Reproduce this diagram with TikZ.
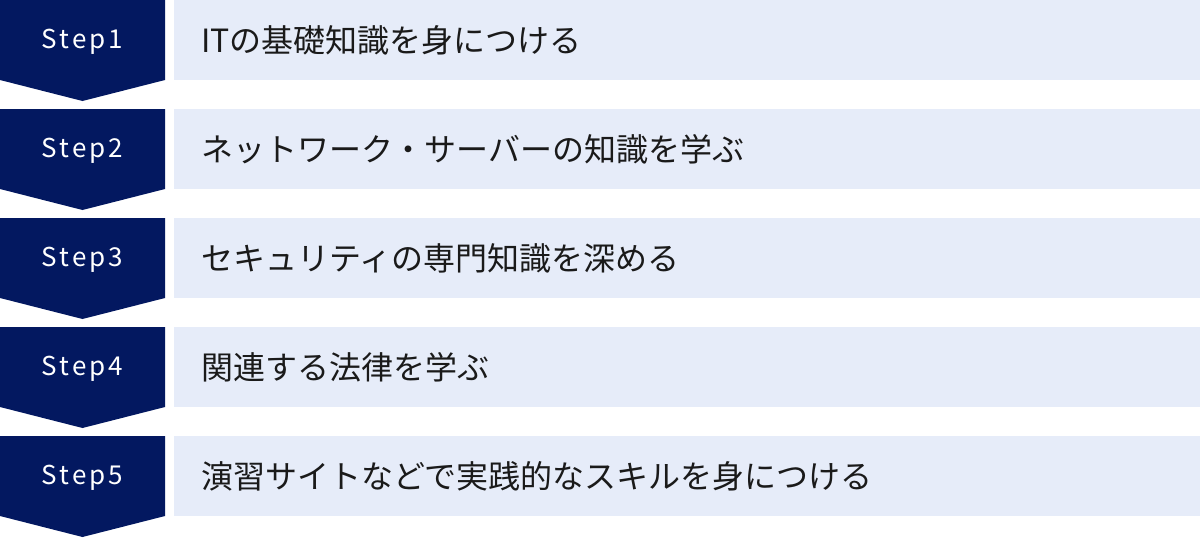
\documentclass[tikz,border=0pt]{standalone}
\usepackage{fontspec}
\setmainfont{Noto Sans CJK JP}
\definecolor{stepnavy}{RGB}{3,24,96}
\definecolor{rowblue}{RGB}{230,236,249}
\definecolor{rowink}{RGB}{26,26,26}
\tikzset{
  steplabel/.style={text=white, font=\fontsize{26}{30}\selectfont\addfontfeature{LetterSpace=12}, inner sep=0pt},
  rowtext/.style={text=rowink, font=\fontsize{32}{36}\selectfont, inner sep=0pt, anchor=west}
}
\begin{document}
\begin{tikzpicture}[x=1pt,y=-1pt, line join=round]
		\def\rowh{80} \def\gap{109} \def\tip{21}
		\def\boxw{165} \def\rowx{174}
		\useasboundingbox (0,0) rectangle (1200,538);
		\foreach \i/\txt in {1/ITの基礎知識を身につける,
			2/ネットワーク・サーバーの知識を学ぶ,
			3/セキュリティの専門知識を深める,
			4/関連する法律を学ぶ,
			5/演習サイトなどで実践的なスキルを身につける}{
			\pgfmathsetmacro\ytop{(\i-1)*\gap}
			\fill[stepnavy] (0,\ytop)--(\boxw,\ytop)--(\boxw,\ytop+\rowh)--(\boxw/2,\ytop+\rowh+\tip)--(0,\ytop+\rowh)--cycle;
			\fill[rowblue] (\rowx,\ytop) rectangle (1200,\ytop+\rowh);
			\node[steplabel] (step\i) at (\boxw/2,\ytop+42) {Step\i};
			\node[rowtext] (task\i) at (201,\ytop+40) {\txt};
		}
		\end{tikzpicture}
\end{document}
